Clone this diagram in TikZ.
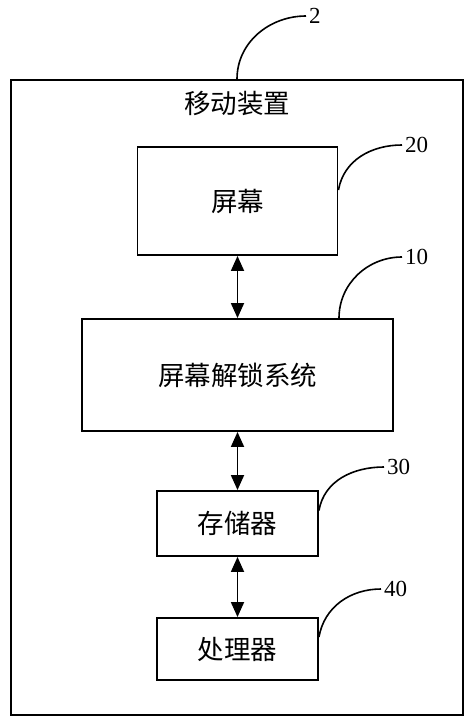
\documentclass[tikz,border=0pt]{standalone}
\usepackage{fontspec}
\setmainfont{Liberation Serif}
\newfontfamily\cjk{Noto Sans CJK SC}
\usetikzlibrary{arrows.meta}

\begin{document}
\begin{tikzpicture}[x=1pt,y=-1pt,
        blk/.style={draw, line width=1.9pt, inner sep=0pt, font=\cjk\fontsize{26.5}{26.5}\selectfont},
        link/.style={line width=1.8pt, {Triangle[length=15pt,width=13pt]}-{Triangle[length=15pt,width=13pt]}},
        tag/.style={anchor=west, inner sep=0pt, font=\fontsize{23}{23}\selectfont},
        lead/.style={line width=1.6pt}]
        \useasboundingbox (0,0) rectangle (474,723);

        % device frame and the blocks
        \node[blk, minimum width=452, minimum height=635] (dev) at (237,397.5) {};
        \node[font=\cjk\fontsize{26.5}{26.5}\selectfont] (title) at (237,103) {移动装置};
        \node[blk, minimum width=200, minimum height=108] (scr) at (237.5,201) {屏幕};
        \node[blk, minimum width=311, minimum height=112] (unl) at (237.5,375) {屏幕解锁系统};
        \node[blk, minimum width=161, minimum height=65] (mem) at (237.5,523.5) {存储器};
        \node[blk, minimum width=161, minimum height=62] (cpu) at (237.5,649) {处理器};

        \draw[link] (scr.south) -- (unl.north);
        \draw[link] (unl.south) -- (mem.north);
        \draw[link] (mem.south) -- (cpu.north);

        % reference numbers
        \node[tag] (t2) at (309,16) {2};
        \node[tag] (t20) at (405,145) {20};
        \node[tag] (t10) at (405,257) {10};
        \node[tag] (t30) at (387,467) {30};
        \node[tag] (t40) at (384,589) {40};

        \draw[lead] (dev.north) to[out=90,in=180] ([xshift=-3pt]t2.west);
        \draw[lead] (scr.east) ++(0,-11) to[out=80,in=180] ([xshift=-3pt]t20.west);
        \draw[lead] (unl.north) ++(101.5,0) to[out=90,in=180] ([xshift=-3pt]t10.west);
        \draw[lead] (mem.east) ++(0,-13) to[out=80,in=180] ([xshift=-3pt]t30.west);
        \draw[lead] (cpu.east) ++(0,-12) to[out=80,in=180] ([xshift=-3pt]t40.west);
    \end{tikzpicture}
\end{document}
